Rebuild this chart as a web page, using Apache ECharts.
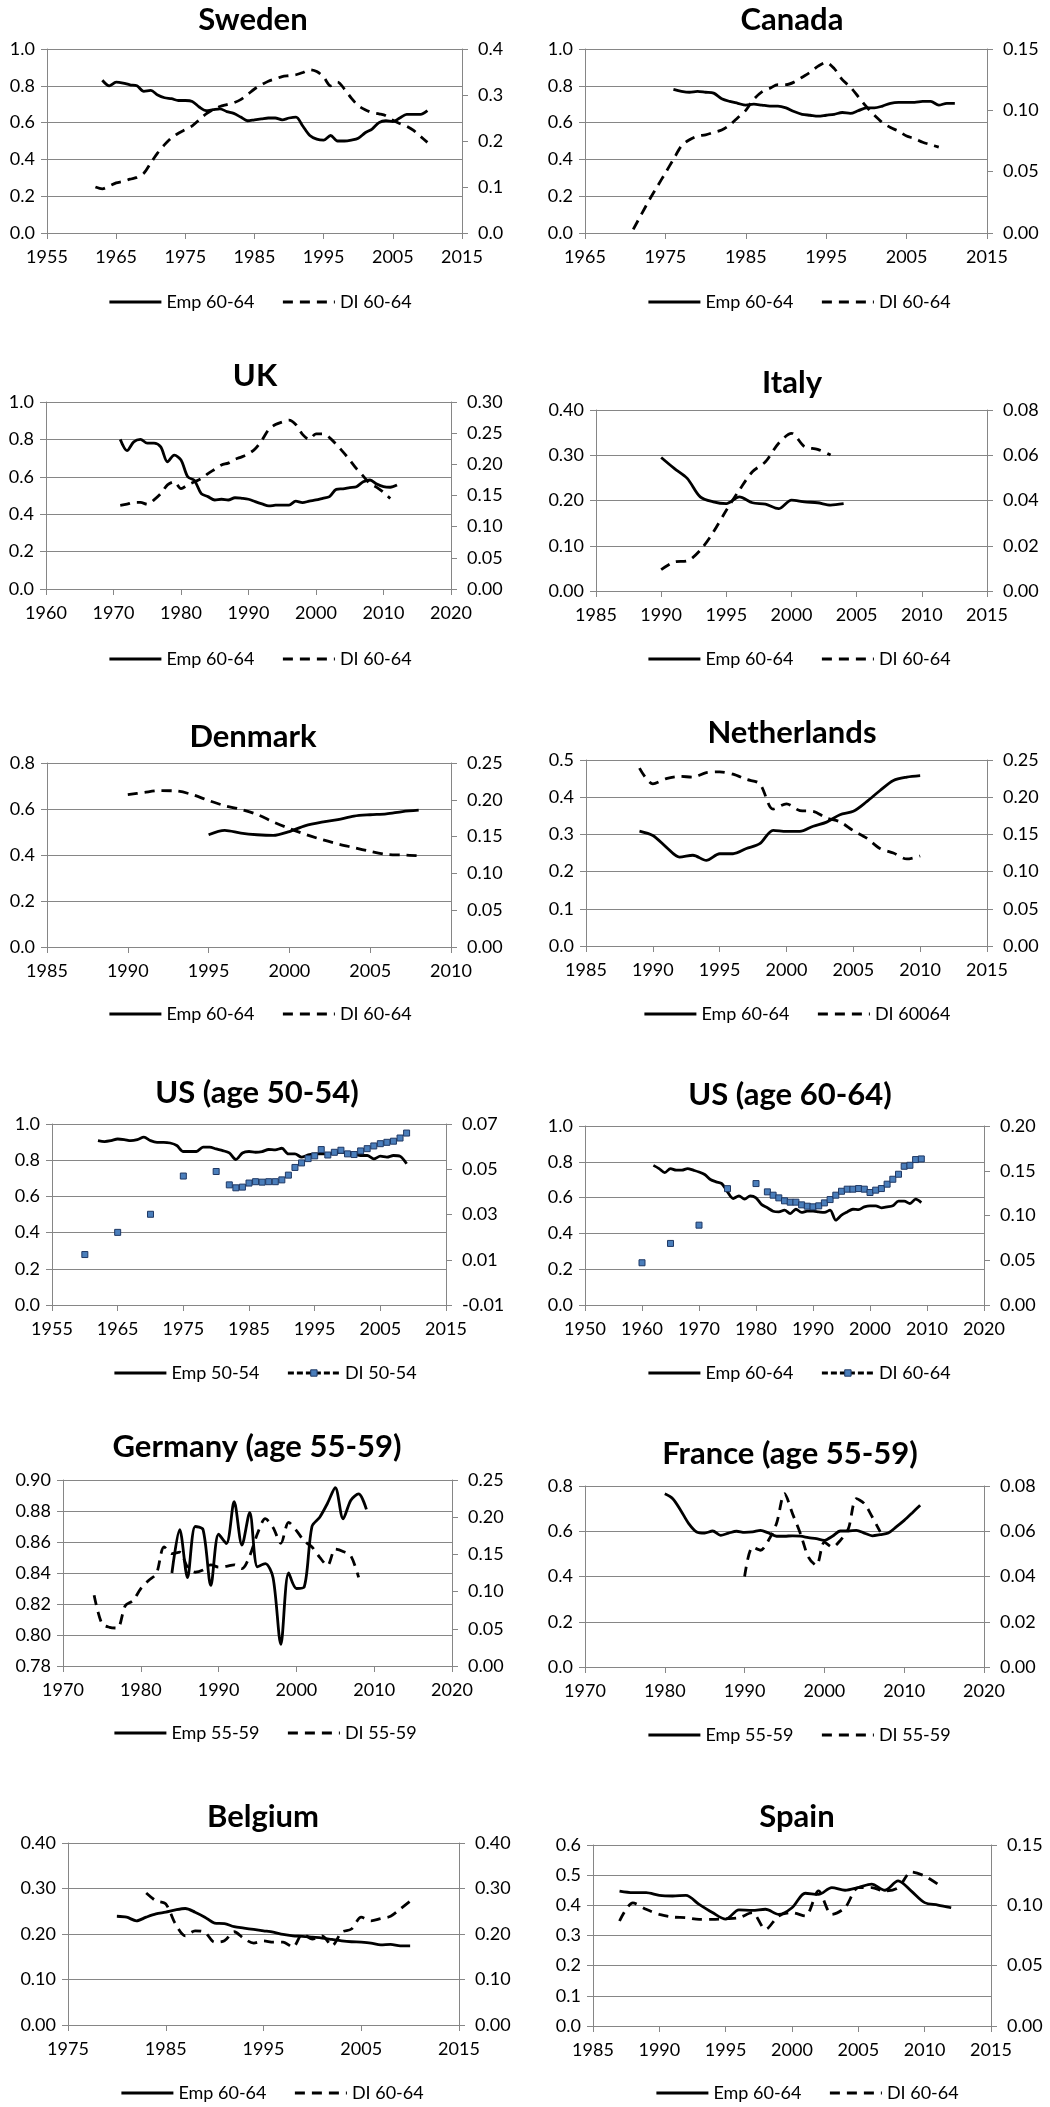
<!DOCTYPE html>
<html>
<head>
<meta charset="utf-8">
<script src="https://cdn.jsdelivr.net/npm/echarts@6/dist/echarts.min.js"></script>
<style>
html, body { margin: 0; padding: 0; background: #fff; }
#main { width: 1050px; height: 2107px; }
</style>
</head>
<body>
<div id="main"></div>
<script>
// values, one entry per year
var swedenEmp = [0.83,0.80,0.82,0.815,0.805,0.80,0.77,0.775,0.75,0.735,0.73,0.72,0.72,0.715,0.685,0.665,0.67,0.675,0.66,0.65,0.63,0.61,0.615,0.62,0.625,0.625,0.615,0.625,0.63,0.58,0.53,0.51,0.505,0.53,0.50,0.50,0.505,0.515,0.545,0.565,0.60,0.61,0.605,0.625,0.645,0.645,0.645,0.665]; // 1963-2010
var swedenDi = [0.10,0.096,0.102,0.109,0.112,0.117,0.121,0.13,0.152,0.174,0.192,0.207,0.217,0.225,0.233,0.246,0.259,0.268,0.275,0.279,0.283,0.29,0.301,0.313,0.322,0.33,0.335,0.34,0.342,0.344,0.349,0.355,0.351,0.339,0.32,0.328,0.313,0.293,0.277,0.268,0.262,0.259,0.255,0.245,0.238,0.232,0.223,0.21,0.197]; // 1962-2010

var canadaEmp = [0.78,0.77,0.765,0.77,0.765,0.76,0.73,0.715,0.705,0.695,0.70,0.695,0.69,0.69,0.68,0.66,0.645,0.64,0.635,0.64,0.645,0.655,0.65,0.665,0.68,0.68,0.69,0.705,0.71,0.71,0.71,0.715,0.715,0.695,0.705,0.705]; // 1976-2011
var canadaDi = [0.003,0.015,0.027,0.038,0.049,0.060,0.071,0.076,0.079,0.080,0.082,0.084,0.088,0.094,0.100,0.109,0.115,0.118,0.121,0.121,0.123,0.127,0.131,0.136,0.139,0.134,0.125,0.119,0.111,0.103,0.096,0.090,0.086,0.083,0.079,0.077,0.074,0.072,0.070]; // 1971-2009

var ukEmp = [0.80,0.74,0.787,0.80,0.78,0.78,0.76,0.68,0.716,0.69,0.60,0.58,0.51,0.494,0.476,0.48,0.476,0.488,0.485,0.48,0.467,0.455,0.444,0.448,0.449,0.449,0.47,0.462,0.47,0.476,0.485,0.494,0.533,0.536,0.542,0.547,0.574,0.583,0.561,0.547,0.544,0.556]; // 1971-2012
var ukDi = [0.134,0.136,0.139,0.139,0.136,0.143,0.153,0.167,0.172,0.161,0.167,0.172,0.177,0.185,0.192,0.199,0.202,0.208,0.212,0.217,0.225,0.239,0.256,0.264,0.268,0.271,0.264,0.248,0.24,0.249,0.249,0.243,0.232,0.22,0.207,0.193,0.181,0.169,0.163,0.155,0.145]; // 1971-2011

var italyEmp = [0.295,0.271,0.249,0.208,0.197,0.193,0.208,0.195,0.192,0.182,0.201,0.197,0.195,0.19,0.193]; // 1990-2004
var italyDi = [0.0094,0.0128,0.0133,0.018,0.026,0.0357,0.0446,0.0527,0.0571,0.0652,0.0697,0.0638,0.0626,0.0601]; // 1990-2003

var denmarkEmp = [0.488,0.507,0.495,0.488,0.485,0.502,0.528,0.543,0.554,0.569,0.575,0.579,0.589,0.595]; // 1995-2008
var denmarkDi = [0.207,0.210,0.2125,0.212,0.207,0.199,0.192,0.187,0.180,0.170,0.161,0.153,0.146,0.140,0.135,0.130,0.126,0.125,0.124]; // 1990-2008

var nethEmp = [0.309,0.297,0.266,0.239,0.244,0.230,0.248,0.248,0.262,0.275,0.311,0.308,0.308,0.322,0.333,0.353,0.362,0.388,0.418,0.445,0.454,0.458]; // 1989-2010
var nethDi = [0.239,0.218,0.225,0.228,0.227,0.233,0.234,0.231,0.224,0.218,0.184,0.191,0.182,0.181,0.172,0.167,0.155,0.145,0.131,0.125,0.117,0.121]; // 1989-2010

var us50Emp = [0.908,0.903,0.908,0.917,0.914,0.908,0.914,0.927,0.908,0.899,0.899,0.895,0.881,0.848,0.848,0.848,0.872,0.872,0.862,0.853,0.840,0.804,0.840,0.848,0.844,0.848,0.859,0.857,0.866,0.835,0.835,0.817,0.829,0.835,0.835,0.835,0.840,0.844,0.840,0.835,0.826,0.826,0.807,0.822,0.817,0.826,0.822,0.780]; // 1962-2009
var usDiYears = [1960,1965,1970,1975,1980,1982,1983,1984,1985,1986,1987,1988,1989,1990,1991,1992,1993,1994,1995,1996,1997,1998,1999,2000,2001,2002,2003,2004,2005,2006,2007,2008,2009];
var us50Di = [0.0123,0.0221,0.0301,0.047,0.049,0.0431,0.0418,0.0421,0.0439,0.0445,0.0443,0.0445,0.0445,0.0453,0.0474,0.0508,0.0528,0.0547,0.0559,0.0587,0.0563,0.0575,0.0584,0.0568,0.0565,0.0581,0.0591,0.0603,0.0613,0.0619,0.0624,0.0638,0.066];

var us60Emp = [0.78,0.762,0.740,0.762,0.753,0.753,0.762,0.753,0.743,0.729,0.701,0.688,0.678,0.632,0.595,0.610,0.591,0.610,0.599,0.561,0.543,0.524,0.520,0.530,0.511,0.535,0.517,0.524,0.524,0.520,0.517,0.530,0.474,0.502,0.520,0.535,0.533,0.548,0.554,0.554,0.543,0.548,0.554,0.580,0.580,0.567,0.591,0.572]; // 1962-2009
var us60Di = [0.0472,0.0688,0.0892,0.130,0.1357,0.1264,0.1227,0.1197,0.1164,0.1149,0.1149,0.1119,0.1104,0.1097,0.1108,0.1141,0.1178,0.1227,0.1271,0.1294,0.1294,0.1301,0.1294,0.1257,0.1283,0.1301,0.135,0.1405,0.1461,0.155,0.1561,0.1625,0.1632];

var germanyEmp = [0.840,0.868,0.837,0.870,0.868,0.832,0.865,0.859,0.886,0.858,0.879,0.844,0.846,0.837,0.794,0.840,0.830,0.831,0.870,0.876,0.885,0.895,0.875,0.887,0.891,0.881]; // 1984-2009
var germanyDi = [0.095,0.057,0.052,0.051,0.081,0.088,0.104,0.115,0.124,0.160,0.151,0.153,0.133,0.126,0.129,0.136,0.133,0.134,0.136,0.131,0.148,0.178,0.198,0.186,0.165,0.193,0.182,0.168,0.160,0.146,0.135,0.157,0.154,0.148,0.119]; // 1974-2008

var franceEmp = [0.766,0.744,0.692,0.634,0.597,0.592,0.601,0.582,0.592,0.600,0.595,0.597,0.604,0.592,0.578,0.578,0.580,0.578,0.572,0.567,0.560,0.578,0.601,0.601,0.604,0.592,0.580,0.585,0.592,0.619,0.648,0.681,0.715]; // 1980-2012
var franceDi = [0.040,0.053,0.0516,0.056,0.0634,0.0766,0.0678,0.0589,0.0486,0.0449,0.0552,0.053,0.056,0.0611,0.0744,0.0722,0.0663,0.0597]; // 1990-2007

var belgiumEmp = [0.239,0.237,0.229,0.237,0.244,0.248,0.253,0.256,0.248,0.237,0.224,0.223,0.216,0.213,0.210,0.207,0.204,0.199,0.196,0.195,0.193,0.191,0.188,0.185,0.183,0.182,0.180,0.176,0.177,0.174,0.174]; // 1980-2010
var belgiumDi = [0.290,0.273,0.266,0.222,0.196,0.207,0.204,0.182,0.185,0.205,0.190,0.180,0.185,0.182,0.182,0.171,0.200,0.189,0.196,0.174,0.204,0.211,0.237,0.229,0.234,0.239,0.255,0.272]; // 1983-2010

var spainEmp = [0.447,0.442,0.442,0.433,0.431,0.433,0.403,0.376,0.354,0.385,0.383,0.387,0.370,0.392,0.440,0.436,0.459,0.450,0.459,0.470,0.450,0.481,0.447,0.409,0.401,0.392]; // 1987-2012
var spainDi = [0.087,0.102,0.0967,0.0925,0.0903,0.0898,0.0884,0.0884,0.0889,0.0898,0.0939,0.0801,0.0912,0.0939,0.0912,0.1119,0.0925,0.0981,0.1146,0.1146,0.1119,0.1146,0.1276,0.1243,0.1174]; // 1987-2011

// pair consecutive years with values
function seq(start, vals) {
  var out = [];
  for (var i = 0; i < vals.length; i++) out.push([start + i, vals[i]]);
  return out;
}
function zip(years, vals) {
  var out = [];
  for (var i = 0; i < vals.length; i++) out.push([years[i], vals[i]]);
  return out;
}

var FONT = 'Lato';
var GREY = '#868686';
var LINE_W = 2.8;

// layout of each small chart (pixel boxes), axis ranges [min, max, interval, decimals]
var panels = [
  {title: 'Sweden', tx: 253, ty: 2, grid: [47, 49, 415, 184], x: [1955, 2015, 10], yl: [0, 1, 0.2, 1], yr: [0, 0.4, 0.1, 1], lg: [108, 303], emp: seq(1963, swedenEmp), di: seq(1962, swedenDi)},
  {title: 'Canada', tx: 792, ty: 2, grid: [585, 49, 402, 184], x: [1965, 2015, 10], yl: [0, 1, 0.2, 1], yr: [0, 0.15, 0.05, 2], lg: [647, 303], emp: seq(1976, canadaEmp), di: seq(1971, canadaDi)},
  {title: 'UK', tx: 255, ty: 358, grid: [46, 402, 405, 187], x: [1960, 2020, 10], yl: [0, 1, 0.2, 1], yr: [0, 0.3, 0.05, 2], lg: [108, 660], emp: seq(1971, ukEmp), di: seq(1971, ukDi)},
  {title: 'Italy', tx: 792, ty: 365, grid: [596, 410, 391, 181], x: [1985, 2015, 5], yl: [0, 0.4, 0.1, 2], yr: [0, 0.08, 0.02, 2], lg: [647, 660], emp: seq(1990, italyEmp), di: seq(1990, italyDi)},
  {title: 'Denmark', tx: 253, ty: 719, grid: [47, 763, 404, 184], x: [1985, 2010, 5], yl: [0, 0.8, 0.2, 1], yr: [0, 0.25, 0.05, 2], lg: [108, 1015], emp: seq(1995, denmarkEmp), di: seq(1990, denmarkDi)},
  {title: 'Netherlands', tx: 792, ty: 715, grid: [586, 760, 401, 186], x: [1985, 2015, 5], yl: [0, 0.5, 0.1, 1], yr: [0, 0.25, 0.05, 2], lg: [643, 1015], names: ['Emp 60-64', 'DI 60064'], emp: seq(1989, nethEmp), di: seq(1989, nethDi)},
  {title: 'US (age 50-54)', tx: 257, ty: 1075, grid: [52, 1124, 394, 181], x: [1955, 2015, 10], yl: [0, 1, 0.2, 1], yr: [-0.01, 0.07, 0.02, 2], lg: [113, 1374], names: ['Emp 50-54', 'DI 50-54'], marker: true, emp: seq(1962, us50Emp), di: zip(usDiYears, us50Di)},
  {title: 'US (age 60-64)', tx: 790, ty: 1077, grid: [585, 1126, 399, 179], x: [1950, 2020, 10], yl: [0, 1, 0.2, 1], yr: [0, 0.2, 0.05, 2], lg: [647, 1374], marker: true, emp: seq(1962, us60Emp), di: zip(usDiYears, us60Di)},
  {title: 'Germany (age 55-59)', tx: 257, ty: 1429, grid: [63, 1480, 389, 186], x: [1970, 2020, 10], yl: [0.78, 0.9, 0.02, 2], yr: [0, 0.25, 0.05, 2], lg: [113, 1734], names: ['Emp 55-59', 'DI 55-59'], emp: seq(1984, germanyEmp), di: seq(1974, germanyDi)},
  {title: 'France (age 55-59)', tx: 790, ty: 1436, grid: [585, 1486, 399, 181], x: [1970, 2020, 10], yl: [0, 0.8, 0.2, 1], yr: [0, 0.08, 0.02, 2], lg: [647, 1736], names: ['Emp 55-59', 'DI 55-59'], emp: seq(1980, franceEmp), di: seq(1990, franceDi)},
  {title: 'Belgium', tx: 263, ty: 1799, grid: [68, 1843, 391, 182], x: [1975, 2015, 10], yl: [0, 0.4, 0.1, 2], yr: [0, 0.4, 0.1, 2], lg: [120, 2094], emp: seq(1980, belgiumEmp), di: seq(1983, belgiumDi)},
  {title: 'Spain', tx: 797, ty: 1799, grid: [593, 1845, 398, 181], x: [1985, 2015, 5], yl: [0, 0.6, 0.1, 1], yr: [0, 0.15, 0.05, 2], lg: [655, 2094], emp: seq(1987, spainEmp), di: seq(1987, spainDi)}
];

function fixed(d) {
  return function (v) { return v.toFixed(d); };
}

function yAxis(i, r, side) {
  return {
    type: 'value', gridIndex: i, position: side,
    min: r[0], max: r[1], interval: r[2],
    axisLine: {show: true, lineStyle: {color: GREY, width: 1}},
    axisTick: {show: true, length: 6, lineStyle: {color: GREY}},
    splitLine: {show: side === 'left', lineStyle: {color: GREY, width: 1}},
    axisLabel: {formatter: fixed(r[3]), fontFamily: FONT, fontSize: 18, color: '#000', margin: side === 'left' ? 12 : 16, showMinLabel: true, showMaxLabel: true}
  };
}

var option = {
  animation: false,
  backgroundColor: '#fff',
  graphic: [], legend: [], grid: [], xAxis: [], yAxis: [], series: []
};

panels.forEach(function (p, i) {
  var names = p.names || ['Emp 60-64', 'DI 60-64'];
  var empName = names[0] + '|' + i;
  var diName = names[1] + '|' + i;

  // chart titles, centred over each panel
  option.graphic.push({
    type: 'text', x: p.tx, y: p.ty + 2,
    style: {text: p.title, align: 'center', verticalAlign: 'top', textAlign: 'center', textVerticalAlign: 'top',
      font: 'bold 31px ' + FONT, fill: '#000'}
  });
  option.grid.push({left: p.grid[0], top: p.grid[1], width: p.grid[2], height: p.grid[3], outerBoundsMode: 'none'});
  option.xAxis.push({
    type: 'value', gridIndex: i, min: p.x[0], max: p.x[1], interval: p.x[2],
    axisLine: {show: true, lineStyle: {color: GREY, width: 1}},
    axisTick: {show: true, length: 6, lineStyle: {color: GREY}},
    splitLine: {show: false},
    axisLabel: {formatter: function (v) { return String(v); }, fontFamily: FONT, fontSize: 18, color: '#000', margin: 15, showMinLabel: true, showMaxLabel: true}
  });
  option.yAxis.push(yAxis(i, p.yl, 'left'), yAxis(i, p.yr, 'right'));

  option.legend.push({
    left: p.lg[0], top: p.lg[1] - 10, padding: 0, orient: 'horizontal',
    itemWidth: 52, itemHeight: p.marker ? 8 : 14, itemGap: 27,
    selectedMode: false,
    lineStyle: {width: LINE_W},
    formatter: function (name) { return name.split('|')[0]; },
    textStyle: {fontFamily: FONT, fontSize: 18, color: '#000'},
    data: [
      {name: empName, itemStyle: {opacity: 0}},
      p.marker
        ? {name: diName, lineStyle: {opacity: 1, type: [6, 3], width: LINE_W, color: '#000'}, itemStyle: {borderWidth: 1}}
        : {name: diName, itemStyle: {opacity: 0}}
    ]
  });

  option.series.push({
    type: 'line', name: empName, xAxisIndex: i, yAxisIndex: 2 * i,
    data: p.emp, smooth: 0.3, symbol: 'none', z: 3,
    lineStyle: {color: '#000', width: LINE_W},
    itemStyle: {color: '#000'}
  });
  if (p.marker) {
    option.series.push({
      type: 'line', name: diName, xAxisIndex: i, yAxisIndex: 2 * i + 1,
      data: p.di, symbol: 'rect', symbolSize: 6, showSymbol: true, showAllSymbol: true, z: 4,
      lineStyle: {color: '#000', width: 2, type: [6, 3], opacity: 0},
      itemStyle: {color: '#4A7EBB', borderColor: '#1F3864', borderWidth: 1}
    });
  } else {
    option.series.push({
      type: 'line', name: diName, xAxisIndex: i, yAxisIndex: 2 * i + 1,
      data: p.di, smooth: 0.3, symbol: 'none', z: 3,
      lineStyle: {color: '#000', width: LINE_W, type: [10, 7]},
      itemStyle: {color: '#000'}
    });
  }
});

var chart = echarts.init(document.getElementById('main'));
chart.setOption(option);
</script>
</body>
</html>
